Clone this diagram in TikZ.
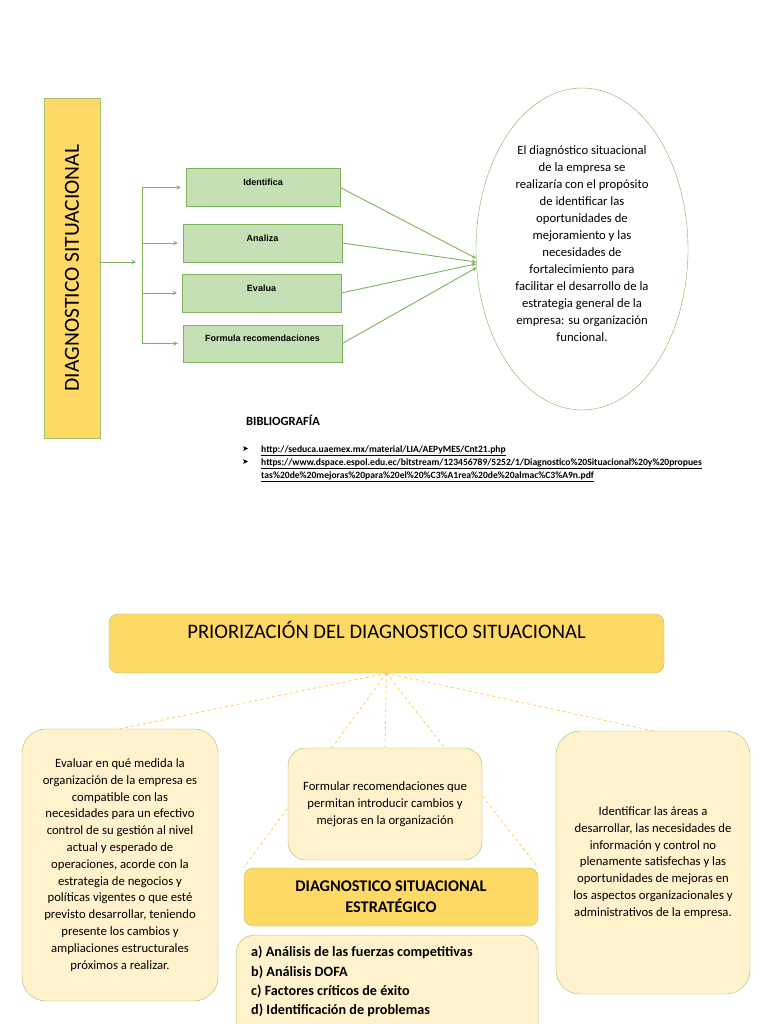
\documentclass[tikz,border=0pt]{standalone}
\usepackage{fontspec}
\setmainfont{Carlito}
\newfontfamily\arialfont{Liberation Sans}
\newfontfamily\symbfont{DejaVu Sans}
\usetikzlibrary{shapes.geometric,positioning}
\definecolor{gold}{HTML}{FFD966}
\definecolor{cream}{HTML}{FFF2CC}
\definecolor{leaf}{HTML}{C5E0B4}
\definecolor{leafline}{HTML}{7DB35A}
\definecolor{olive}{HTML}{9DC16F}
\definecolor{dashgold}{HTML}{FFC94D}
\begin{document}
\begin{tikzpicture}[
    x=1pt, y=-1pt,
    >=stealth,
    diagbox/.style={draw=olive, fill=gold, rectangle, minimum width=340, minimum height=56, inner sep=0pt, rotate=90, font=\fontsize{21.5}{24}\selectfont},
    stepbox/.style={draw=leafline, fill=leaf, rectangle, minimum width=159, minimum height=38, inner sep=0pt, text height=6.5, text depth=10, font=\arialfont\bfseries\fontsize{9}{10}\selectfont},
    idea/.style={draw=leafline, fill=white, ellipse, minimum width=212, minimum height=322, inner sep=0pt, align=center, font=\fontsize{12.7}{17}\selectfont},
    arrow/.style={->, draw=leafline, line width=0.9pt},
    link/.style={draw=leafline, line width=0.9pt},
    headbox/.style={draw=olive, fill=gold, rectangle, rounded corners=9, inner sep=0pt, align=center},
    notebox/.style={draw=olive, fill=cream, rectangle, rounded corners=24, inner sep=0pt, align=center, font=\fontsize{12.7}{16.8}\selectfont},
    dashline/.style={draw=dashgold, dashed, line width=0.7pt}
]
  \clip (0,0) rectangle (768,1024);
  \fill[white] (0,0) rectangle (768,1024);

  \node[diagbox] (diag) at (72,268) {DIAGNOSTICO SITUACIONAL};

  \node[stepbox, minimum width=154] (ident) at (263,187.5) {Identifica};
  \node[stepbox] (anal) at (262.5,243) {Analiza};
  \node[stepbox] (eval) at (261.5,293) {Evalua};
  \node[stepbox, minimum height=37] (formula) at (262.5,343.5) {Formula recomendaciones};

  \node[idea] (goal) at (582,249) {};
  \node[align=center, inner sep=0pt, font=\fontsize{12.7}{17}\selectfont] (goaltext) at (582,244) {El diagnóstico situacional\\ de la empresa se\\ realizaría con el propósito\\ de identificar las\\ oportunidades de\\ mejoramiento y las\\ necesidades de\\ fortalecimiento para\\ facilitar el desarrollo de la\\ estrategia general de la\\ empresa: su organización\\ funcional.};

  % Branching arrows
  \coordinate (fork) at (142,262);
  \draw[arrow] (diag.south |- fork) -- ([xshift=-6]fork);
  \draw[link] (fork |- ident.west) -- (fork |- formula.west);
  \foreach \b in {ident, anal, eval, formula}
    \draw[arrow, shorten >=5pt] (fork |- \b.west) -- (\b.west);

  \draw[arrow] (ident.east) -- (goal.185);
  \draw[arrow] (anal.east) -- (goal.187);
  \draw[arrow] (eval.east) -- (goal.188.5);
  \draw[arrow] (formula.east) -- (goal.190);

  % Bibliography
  \node[anchor=west, inner sep=0pt, font=\bfseries\fontsize{12.5}{14}\selectfont] (biblio) at (246,420) {BIBLIOGRAFÍA};
  \node[anchor=west, inner sep=0pt, font=\symbfont\fontsize{8}{9}\selectfont] (bul1) at (242,449) {➤};
  \node[anchor=west, inner sep=0pt, font=\symbfont\fontsize{8}{9}\selectfont] (bul2) at (242,462) {➤};
  \node[anchor=north west, inner sep=0pt, align=left, font=\bfseries\fontsize{9.6}{13}\selectfont] (urls) at (261,445.5)
    {\underline{http://seduca.uaemex.mx/material/LIA/AEPyMES/Cnt21.php}\\
     \underline{https://www.dspace.espol.edu.ec/bitstream/123456789/5252/1/Diagnostico\%20Situacional\%20y\%20propues}\\
     \underline{tas\%20de\%20mejoras\%20para\%20el\%20\%C3\%A1rea\%20de\%20almac\%C3\%A9n.pdf}};

  % Priorizacion
  \node[headbox, minimum width=555, minimum height=59, text height=14, text depth=24, font=\fontsize{20.6}{22}\selectfont] (prior) at (386.5,643.5) {PRIORIZACIÓN DEL DIAGNOSTICO SITUACIONAL};
  \node[headbox, minimum width=294, minimum height=58, font=\bfseries\fontsize{16.3}{21}\selectfont] (estrat) at (391,897) {DIAGNOSTICO SITUACIONAL\\ ESTRATÉGICO};
  \node[notebox, rounded corners=18, minimum width=302, minimum height=130, anchor=north west] (methods) at (236,935) {};
  \node[anchor=north west, align=left, inner sep=0pt, font=\bfseries\fontsize{14.2}{19.3}\selectfont] (methodlist) at (251,946)
    {a) Análisis de las fuerzas competitivas\\ b) Análisis DOFA\\ c) Factores críticos de éxito\\ d) Identificación de problemas};
  \node[notebox, minimum width=196, minimum height=272] (evaluar) at (120,865) {Evaluar en qué medida la\\ organización de la empresa es\\ compatible con las\\ necesidades para un efectivo\\ control de su gestión al nivel\\ actual y esperado de\\ operaciones, acorde con la\\ estrategia de negocios y\\ políticas vigentes o que esté\\ previsto desarrollar, teniendo\\ presente los cambios y\\ ampliaciones estructurales\\ próximos a realizar.};
  \node[notebox, minimum width=194, minimum height=263] (identificar) at (653,862.5) {Identificar las áreas a\\ desarrollar, las necesidades de\\ información y control no\\ plenamente satisfechas y las\\ oportunidades de mejoras en\\ los aspectos organizacionales y\\ administrativos de la empresa.};

  \draw[dashline] (prior.south) -- (evaluar.north);
  \draw[dashline] (prior.south) -- (identificar.north);
  \draw[dashline] (prior.south) -- (estrat.north west);
  \draw[dashline] (prior.south) -- (estrat.north east);

  \node[notebox, rounded corners=18, minimum width=194, minimum height=112] (formular) at (385,804) {Formular recomendaciones que\\ permitan introducir cambios y\\ mejoras en la organización};
  \draw[dashline] (prior.south) -- (formular.north);
\end{tikzpicture}
\end{document}
